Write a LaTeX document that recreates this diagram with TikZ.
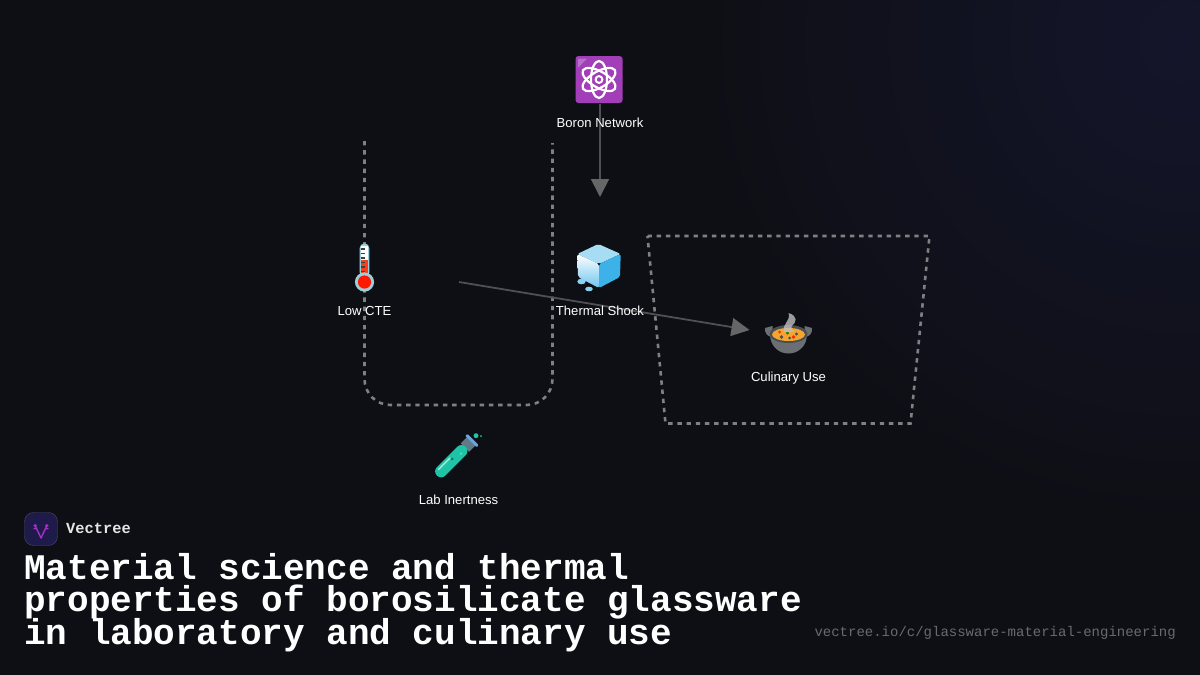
\documentclass[tikz,border=0pt]{standalone}
\usepackage{fontspec}
\setmainfont{Liberation Sans}
\newfontfamily\monofont{Liberation Mono}
\usetikzlibrary{arrows.meta,positioning}
\AtBeginDocument{\setlength{\lineskiplimit}{-100pt}}
\definecolor{pagebg}{HTML}{0E0F14}
\definecolor{glowblue}{HTML}{14152A}
\definecolor{edgegray}{HTML}{505052}
\definecolor{tipgray}{HTML}{666668}
\definecolor{groupgray}{HTML}{808083}
\definecolor{urlgray}{HTML}{6A6A6E}
\definecolor{atompurple}{HTML}{A23FB8}
\definecolor{tubeteal}{HTML}{1FC4A6}
\definecolor{potgray}{HTML}{6B6F73}
\definecolor{soup}{HTML}{F2A531}
\definecolor{cubeblue}{HTML}{3CB2E8}
\definecolor{thermoblue}{HTML}{9CCFD9}
\definecolor{logobg}{HTML}{1E1B4B}
\definecolor{logomark}{HTML}{A32FC4}
\tikzset{
  atomicon/.pic={
    \fill[atompurple,rounded corners=3pt] (-23.5,-23.5) rectangle (23.5,23.5);
    \fill[white,opacity=.25] (-21,-21) -- (-12,-21) -- (-21,-12) -- cycle;
    \foreach \ang in {0,60,120}
      \draw[white,line width=2.2pt,rotate=\ang] (0,0) ellipse (8 and 18.5);
    \draw[white,line width=2pt] (0,0) circle (3.4);
  },
  thermoicon/.pic={
    \fill[thermoblue,rounded corners=4.5pt] (-4.8,-23.5) rectangle (4.8,10);
    \fill[white] (-3.6,-21.5) rectangle (3.6,-6);
    \fill[red!70!orange!90!white] (-3.6,-7) rectangle (3.6,10);
    \fill[thermoblue] (0,15) circle (9.6);
    \fill[red!80!orange] (0,15) circle (6.6);
    \foreach \tick in {-18,-13.5,-9,-4.5,0,4.5}
      \draw[black!75,line width=1.5pt] (-4,\tick) -- (0.5,\tick);
  },
  cubeicon/.pic={
    \fill[cubeblue!45!white,rounded corners=2pt] (-.7,-23) -- (21.7,-13) -- (0,-3) -- (-21.7,-13) -- cycle;
    \shade[top color=white,bottom color=cubeblue!75!white,rounded corners=2pt] (-21.7,-13) -- (0,-3) -- (0,21) -- (-21,10) -- cycle;
    \fill[cubeblue,rounded corners=2pt] (21.7,-13) -- (0,-3) -- (0,21) -- (21,10) -- cycle;
    \fill[cubeblue!60!white] (-17.5,14.5) ellipse (4.2 and 2.8);
    \fill[cubeblue!60!white] (-10,22) ellipse (3.8 and 2.3);
  },
  poticon/.pic={
    \fill[potgray] (-23.5,-5) .. controls (-24,0) and (-21,4) .. (-16,4) -- (-16,-7) -- cycle;
    \fill[potgray] (23.5,-5) .. controls (24,0) and (21,4) .. (16,4) -- (16,-7) -- cycle;
    \fill[potgray] (-18.5,1) .. controls (-18.5,14) and (-9,20.5) .. (0,20.5) .. controls (9,20.5) and (18.5,14) .. (18.5,1) -- cycle;
    \fill[potgray!70!black] (0,1) ellipse (19 and 9);
    \fill[soup] (0,1.5) ellipse (16.5 and 6.5);
    \fill[black!70] (-7,4) circle (1.9) (8,1) circle (1.7) (1,5) circle (1.5);
    \fill[green!50!black] (-1,0) circle (1.6);
    \fill[red!70!orange] (5,4) circle (1.9) (-9,-1) circle (1.5);
    \fill[white!75!black,opacity=.8] (-4,-1) .. controls (-8,-8) and (3,-12) .. (0,-20) .. controls (10,-17) and (8,-10) .. (3,-7) .. controls (2,-5) and (4,-3) .. (6,-1) -- cycle;
  },
  tubeicon/.pic={
    \begin{scope}[shift={(-3.5,.5)},rotate=-45]
      \fill[white!70!cyan,opacity=.5] (-6,-23) rectangle (6,-14);
      \fill[tubeteal,rounded corners=5.8pt] (-6,-15) rectangle (6,25.5);
      \fill[cyan!60!blue!60!white,rounded corners=1pt] (-8,-25.5) rectangle (8,-22.5);
      \draw[white!70!tubeteal,line width=1.2pt,line cap=round] (-3.2,4) -- (-3.2,20);
      \fill[tubeteal!60!black] (-1,3) circle (1.6);
      \fill[white!60!tubeteal] (1.5,-7) circle (1);
    \end{scope}
    \fill[tubeteal] (17.5,-21.3) circle (2.5);
    \fill[tubeteal] (22.5,-21) circle (1);
  },
  vectreemark/.pic={
    \draw[logomark,line width=1.4pt,line join=round] (-5.7,-3) -- (0,9) -- (5.7,-3);
    \draw[logomark,line width=1.2pt] (-7.5,-.5) -- (-4,0) (7.5,-.5) -- (4,0);
    \fill[logomark] (-5.8,-3.3) circle (1.8) (5.8,-3.3) circle (1.8);
  }
}
\begin{document}
\begin{tikzpicture}[x=1pt,y=-1pt,
  nodelabel/.style={font=\fontsize{13.1}{15}\selectfont,text=white,inner sep=0pt,anchor=base},
  icon/.style={minimum size=47pt,inner sep=0pt},
  edge/.style={-{Triangle[length=18pt,width=18pt,color=tipgray]},line width=1.8pt,edgegray},
  groupline/.style={groupgray,line width=2.6pt,dash pattern=on 4.4pt off 4.8pt}]
  \useasboundingbox (0,0) rectangle (1200,675);
  \fill[pagebg] (0,0) rectangle (1200,675);
  \begin{scope}
    \clip (0,0) rectangle (1200,675);
    \shade[inner color=glowblue,outer color=pagebg] (1180,40) circle (500);
  \end{scope}
  % groups
  \draw[groupline,rounded corners=26pt] (364.5,141) -- (364.5,405) -- (552.5,405) -- (552.5,143);
  \draw[groupline] (647.5,236) -- (929.5,236) -- (910.5,423.5) -- (665.5,423.5) -- cycle;
  % icons
  \node[icon] (boron) at (599,79.5) {};
  \node[icon] (lowcte) at (364.5,267) {};
  \node[icon] (thermal) at (599,267) {};
  \node[icon] (culinary) at (788.5,333) {};
  \node[icon] (lab) at (458.5,457) {};
  \coordinate (thermalin) at (600,197);
  \coordinate (labgroup) at (459,282);
  \coordinate (culinarygroup) at (749.5,330);
  % edges
  \draw[edge] (600,103.5) -- (thermalin);
  \draw[edge] (labgroup) -- (culinarygroup);
  \pic at (boron) {atomicon};
  \pic at (lowcte) {thermoicon};
  \pic at (thermal) {cubeicon};
  \pic at (culinary) {poticon};
  \pic at (lab) {tubeicon};
  \node[nodelabel] (boronlabel) at (600,127) {Boron Network};
  \node[nodelabel] (lowctelabel) at (364.5,315) {Low CTE};
  \node[nodelabel] (thermallabel) at (600,315) {Thermal Shock};
  \node[nodelabel] (culinarylabel) at (788.5,381) {Culinary Use};
  \node[nodelabel] (lablabel) at (458.5,504) {Lab Inertness};
  % brand
  \node[draw=logobg!80!white,fill=logobg,rounded corners=9pt,minimum size=33pt,inner sep=0pt] (logo) at (41,529) {};
  \pic at (logo) {vectreemark};
  \node[font=\monofont\bfseries\fontsize{15.4}{18}\selectfont,text=white!90!black,anchor=west,inner sep=0pt] (brand) at (66,528) {Vectree};
  \node[font=\monofont\bfseries\fontsize{36}{32.4}\selectfont,text=white,align=left,anchor=north west,inner sep=0pt] (title) at (24,553) {Material science and thermal\\properties of borosilicate glassware\\in laboratory and culinary use};
  \node[font=\monofont\fontsize{14}{16}\selectfont,text=urlgray,anchor=east,inner sep=0pt] (url) at (1176,633) {vectree.io/c/glassware-material-engineering};
\end{tikzpicture}
\end{document}
